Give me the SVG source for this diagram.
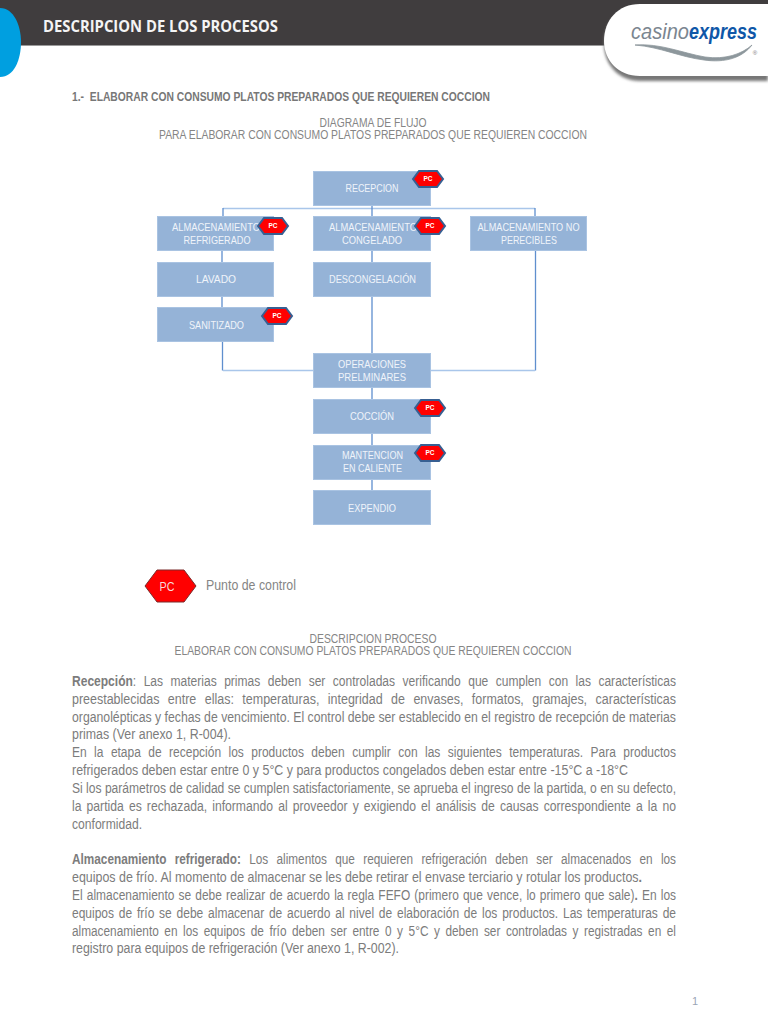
<svg xmlns="http://www.w3.org/2000/svg" width="768" height="1024" viewBox="0 0 768 1024">
<defs>
<filter id="sh" x="-10%" y="-10%" width="120%" height="130%"><feGaussianBlur stdDeviation="1.5"/></filter>
</defs>
<style>
text{font-family:"Liberation Sans",Arial,sans-serif}
.box{fill:#95b3d7;stroke:#a9c3e2;stroke-width:1}
.bt{fill:#f0f4fa;font-size:11px;text-anchor:middle}
.g{fill:#858585;font-size:12px}
.c{text-anchor:middle}
.b{fill:#7c7c7c;font-size:14px}
.bb{font-weight:bold}
.cn path{fill:none;stroke:#5f8fce;stroke-width:1.3}
.cn .l{stroke:#a9c6ea;stroke-width:1.6}
.pc polygon{fill:#ff0000;stroke:#375f92;stroke-width:2}
.pc text{fill:#fff;font-size:6.5px;font-weight:bold;text-anchor:middle}
</style>
<rect width="768" height="1024" fill="#fff"/>
<g id="header">
<rect width="768" height="45" fill="#403d3e"/>
<rect y="45" width="768" height="1" fill="#9a9a9a"/>
<path d="M0 8C14 8 21 26 21 42C21 60 14 77 0 77Z" fill="#009fe0"/>
<text x="43" y="32" font-size="15.500" font-weight="bold" fill="#f4f4f4" style="font-family:'Open Sans','Liberation Sans',sans-serif" textLength="235" lengthAdjust="spacingAndGlyphs">DESCRIPCION DE LOS PROCESOS</text>
<path d="M768 79H640C618 79 604 62 604 42C604 20 618 5 640 5H768Z" fill="#777" filter="url(#sh)" transform="translate(0,2)"/>
<path d="M768 76H640C618 76 604 60 604 41C604 20 618 4 640 4H768Z" fill="#fff"/>
<text x="631" y="39" font-size="22" fill="#7b8690" font-style="italic" textLength="58" lengthAdjust="spacingAndGlyphs">casino</text>
<text x="689" y="39" font-size="22" fill="#0f57a8" font-style="italic" font-weight="bold" textLength="68" lengthAdjust="spacingAndGlyphs">express</text>
<path d="M635 45C660 43 682 53 705 57C725 60 742 54 752 45C742 58 725 63 704 60C680 57 660 47 635 45Z" fill="#8d979c" stroke="#8d979c" stroke-width=".8"/>
<text x="755" y="55" font-size="6" fill="#777" text-anchor="middle">®</text>
</g>
<text class="g bb" x="72" y="101" fill="#777" style="fill:#777;white-space:pre" textLength="418" lengthAdjust="spacingAndGlyphs">1.-  ELABORAR CON CONSUMO PLATOS PREPARADOS QUE REQUIEREN COCCION</text>
<text class="g c" x="373" y="127" textLength="107" lengthAdjust="spacingAndGlyphs">DIAGRAMA DE FLUJO</text>
<text class="g c" x="373" y="139" textLength="428" lengthAdjust="spacingAndGlyphs">PARA ELABORAR CON CONSUMO PLATOS PREPARADOS QUE REQUIEREN COCCION</text>
<g id="connectors" class="cn">
<path class="l" d="M223 208.500H535"/>
<path d="M372 205V216M223 208V216M535 208V216M222 251V262M372 251V262M222 297V307M372 297V353M372 388V400M372 434V445M372 480V490"/>
<path d="M222.500 342V370.500"/>
<path d="M535.500 251V370.500"/>
<path class="l" d="M223 370.500H313M431 370.500H535"/>
</g>
<g id="recepcion"><rect class="box" x="313.500" y="171.500" width="117" height="34"/><text class="bt" x="372" y="192" textLength="53" lengthAdjust="spacingAndGlyphs">RECEPCION</text></g>
<g id="alm-refrigerado"><rect class="box" x="157.500" y="216.500" width="116" height="34"/><text class="bt" x="216" y="231" textLength="88" lengthAdjust="spacingAndGlyphs">ALMACENAMIENTO</text><text class="bt" x="217" y="244" textLength="67" lengthAdjust="spacingAndGlyphs">REFRIGERADO</text></g>
<g id="alm-congelado"><rect class="box" x="313.500" y="216.500" width="117" height="34"/><text class="bt" x="373" y="231" textLength="88" lengthAdjust="spacingAndGlyphs">ALMACENAMIENTO</text><text class="bt" x="372" y="244" textLength="60" lengthAdjust="spacingAndGlyphs">CONGELADO</text></g>
<g id="alm-no-perecibles"><rect class="box" x="470.500" y="216.500" width="116" height="34"/><text class="bt" x="528.500" y="231" textLength="102" lengthAdjust="spacingAndGlyphs">ALMACENAMIENTO NO</text><text class="bt" x="529" y="244" textLength="56" lengthAdjust="spacingAndGlyphs">PERECIBLES</text></g>
<g id="lavado"><rect class="box" x="157.500" y="262.500" width="116" height="34"/><text class="bt" x="216" y="283" textLength="40" lengthAdjust="spacingAndGlyphs">LAVADO</text></g>
<g id="descongelacion"><rect class="box" x="313.500" y="262.500" width="117" height="34"/><text class="bt" x="372.500" y="283" textLength="87" lengthAdjust="spacingAndGlyphs">DESCONGELACIÓN</text></g>
<g id="sanitizado"><rect class="box" x="157.500" y="307.500" width="116" height="34"/><text class="bt" x="216.500" y="329" textLength="55" lengthAdjust="spacingAndGlyphs">SANITIZADO</text></g>
<g id="operaciones"><rect class="box" x="313.500" y="353.500" width="117" height="34"/><text class="bt" x="372" y="368" textLength="68" lengthAdjust="spacingAndGlyphs">OPERACIONES</text><text class="bt" x="372" y="381" textLength="68" lengthAdjust="spacingAndGlyphs">PRELMINARES</text></g>
<g id="coccion"><rect class="box" x="313.500" y="399.500" width="117" height="34"/><text class="bt" x="372" y="420" textLength="44" lengthAdjust="spacingAndGlyphs">COCCIÓN</text></g>
<g id="mantencion"><rect class="box" x="313.500" y="445.500" width="117" height="34"/><text class="bt" x="372.500" y="459" textLength="61" lengthAdjust="spacingAndGlyphs">MANTENCION</text><text class="bt" x="372.500" y="472" textLength="59" lengthAdjust="spacingAndGlyphs">EN CALIENTE</text></g>
<g id="expendio"><rect class="box" x="313.500" y="490.500" width="117" height="34"/><text class="bt" x="372" y="512" textLength="48" lengthAdjust="spacingAndGlyphs">EXPENDIO</text></g>
<g id="pc1" class="pc" transform="translate(428,179)"><polygon points="-15,0 -9,-8 9,-8 15,0 9,8 -9,8"/><text y="2.300">PC</text></g>
<g id="pc2" class="pc" transform="translate(273,226)"><polygon points="-15,0 -9,-8 9,-8 15,0 9,8 -9,8"/><text y="2.300">PC</text></g>
<g id="pc3" class="pc" transform="translate(430,226)"><polygon points="-15,0 -9,-8 9,-8 15,0 9,8 -9,8"/><text y="2.300">PC</text></g>
<g id="pc4" class="pc" transform="translate(277,316)"><polygon points="-15,0 -9,-8 9,-8 15,0 9,8 -9,8"/><text y="2.300">PC</text></g>
<g id="pc5" class="pc" transform="translate(430,408)"><polygon points="-15,0 -9,-8 9,-8 15,0 9,8 -9,8"/><text y="2.300">PC</text></g>
<g id="pc6" class="pc" transform="translate(430,453)"><polygon points="-15,0 -9,-8 9,-8 15,0 9,8 -9,8"/><text y="2.300">PC</text></g>
<g id="legend">
<polygon points="145,586 157,570 184,570 196,586 184,602 157,602" fill="#f00" stroke="#7a2a2a" stroke-width="1"/>
<text x="167" y="591" font-size="12.500" fill="#f6dcdc" text-anchor="middle" textLength="15" lengthAdjust="spacingAndGlyphs">PC</text>
<text class="g" x="206" y="590" style="font-size:14px" textLength="90" lengthAdjust="spacingAndGlyphs">Punto de control</text>
</g>
<text class="g c" x="373" y="643" textLength="127" lengthAdjust="spacingAndGlyphs">DESCRIPCION PROCESO</text>
<text class="g c" x="373" y="655" textLength="397" lengthAdjust="spacingAndGlyphs">ELABORAR CON CONSUMO PLATOS PREPARADOS QUE REQUIEREN COCCION</text>
<g id="body">
<text class="b" x="72" y="686" word-spacing="4.800" textLength="604" lengthAdjust="spacingAndGlyphs"><tspan class="bb">Recepción</tspan>: Las materias primas deben ser controladas verificando que cumplen con las características</text>
<text class="b" x="72" y="704" word-spacing="5.600" textLength="604" lengthAdjust="spacingAndGlyphs">preestablecidas entre ellas: temperaturas, integridad de envases, formatos, gramajes, características</text>
<text class="b" x="72" y="722" textLength="604" lengthAdjust="spacingAndGlyphs">organolépticas y fechas de vencimiento. El control debe ser establecido en el registro de recepción de materias</text>
<text class="b" x="72" y="739" textLength="159" lengthAdjust="spacingAndGlyphs">primas (Ver anexo 1, R-004).</text>
<text class="b" x="72" y="757" word-spacing="4.800" textLength="604" lengthAdjust="spacingAndGlyphs">En la etapa de recepción los productos deben cumplir con las siguientes temperaturas. Para productos</text>
<text class="b" x="72" y="775" textLength="556" lengthAdjust="spacingAndGlyphs">refrigerados deben estar entre 0 y 5°C y para productos congelados deben estar entre -15°C a -18°C</text>
<text class="b" x="72" y="793" textLength="604" lengthAdjust="spacingAndGlyphs">Si los parámetros de calidad se cumplen satisfactoriamente, se aprueba el ingreso de la partida, o en su defecto,</text>
<text class="b" x="72" y="811" word-spacing="2" textLength="604" lengthAdjust="spacingAndGlyphs">la partida es rechazada, informando al proveedor y exigiendo el análisis de causas correspondiente a la no</text>
<text class="b" x="72" y="829" textLength="70" lengthAdjust="spacingAndGlyphs">conformidad.</text>
<text class="b" x="72" y="864" word-spacing="6" textLength="604" lengthAdjust="spacingAndGlyphs"><tspan class="bb">Almacenamiento refrigerado:</tspan> Los alimentos que requieren refrigeración deben ser almacenados en los</text>
<text class="b" x="72" y="882" textLength="570" lengthAdjust="spacingAndGlyphs">equipos de frío. Al momento de almacenar se les debe retirar el envase terciario y rotular los productos<tspan class="bb">.</tspan></text>
<text class="b" x="72" y="900" word-spacing="1" textLength="604" lengthAdjust="spacingAndGlyphs">El almacenamiento se debe realizar de acuerdo la regla FEFO (primero que vence, lo primero que sale)<tspan class="bb">.</tspan> En los</text>
<text class="b" x="72" y="918" word-spacing="1.700" textLength="604" lengthAdjust="spacingAndGlyphs">equipos de frío se debe almacenar de acuerdo al nivel de elaboración de los productos. Las temperaturas de</text>
<text class="b" x="72" y="936" word-spacing="2.700" textLength="604" lengthAdjust="spacingAndGlyphs">almacenamiento en los equipos de frío deben ser entre 0 y 5°C y deben ser controladas y registradas en el</text>
<text class="b" x="72" y="953" textLength="327" lengthAdjust="spacingAndGlyphs">registro para equipos de refrigeración (Ver anexo 1, R-002).</text>
</g>
<text x="692" y="1005" font-size="11" fill="#9aa5b5">1</text>
</svg>
